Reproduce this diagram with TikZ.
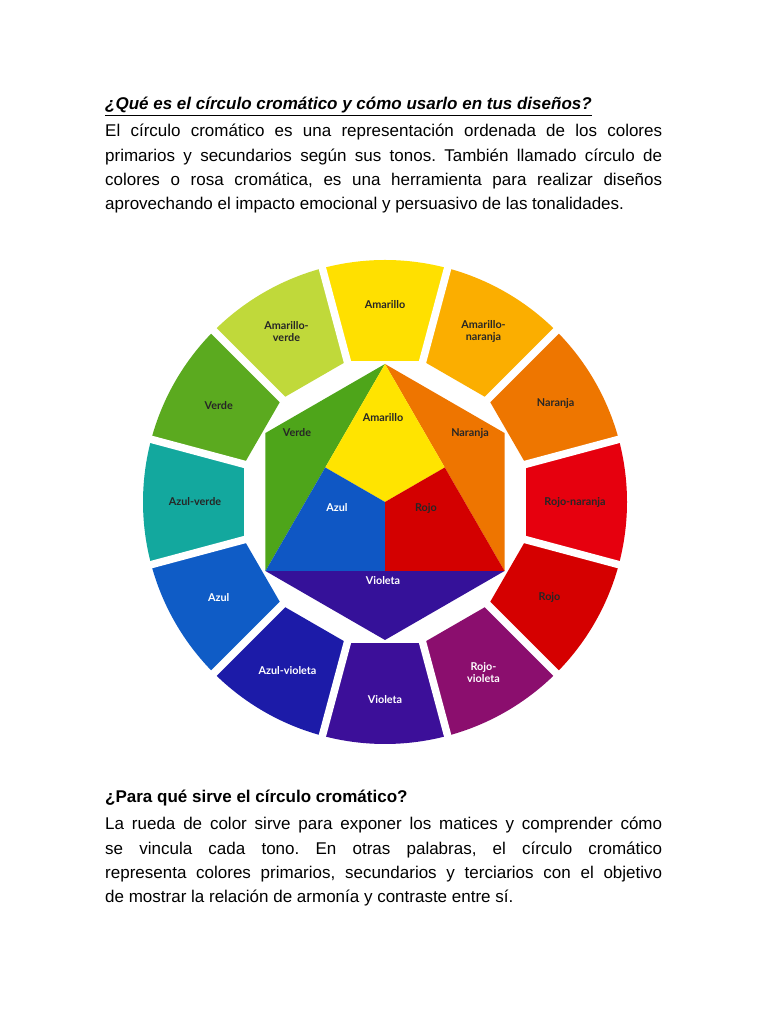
\documentclass[tikz,border=0pt]{standalone}
\usepackage{fontspec}
\setmainfont{Liberation Sans}
\newfontfamily\lblfont{Lato}
\usetikzlibrary{calc}
\newcommand\nohyph{\hyphenpenalty=10000\exhyphenpenalty=10000\lefthyphenmin=62\righthyphenmin=62\language=255\relax}
\begin{document}
\begin{tikzpicture}[x=1pt,y=1pt,
  lbl/.style={font=\lblfont\bfseries\fontsize{10.8}{12.5}\selectfont,align=center,text=black!85},
  wlbl/.style={lbl,text=white},
  para/.style={anchor=north west,text width=557pt,align=justify,inner sep=0pt,font=\fontsize{17}{24.3}\selectfont\frenchspacing\nohyph}]
\definecolor{cAV}{HTML}{C0D93A}\definecolor{cV}{HTML}{5BAA1F}\definecolor{cAzV}{HTML}{13A89E}
\definecolor{cAz}{HTML}{0F5CC6}\definecolor{cAzVi}{HTML}{1C1BA8}\definecolor{cVi}{HTML}{3C0F99}
\definecolor{cRVi}{HTML}{8B0E6E}\definecolor{cR}{HTML}{D50000}\definecolor{cRN}{HTML}{E6000E}
\definecolor{cN}{HTML}{EE7600}\definecolor{cAN}{HTML}{FBAE00}\definecolor{cA}{HTML}{FFE000}
\definecolor{iV}{HTML}{4EA51A}\definecolor{iA}{HTML}{FFE400}\definecolor{iN}{HTML}{EE7500}
\definecolor{iAz}{HTML}{0F57C4}\definecolor{iR}{HTML}{D30000}\definecolor{iVi}{HTML}{351199}
\useasboundingbox[fill=white] (0,0) rectangle (768,1024);
\node[anchor=base west,inner sep=0pt,font=\fontsize{17}{20}\selectfont\bfseries\itshape] (title) at (105,1024-110) {\underline{¿Qué es el círculo cromático y cómo usarlo en tus diseños?}};
\node[para] (p1) at (105,1024-124) {El círculo cromático es una representación ordenada de los colores primarios y secundarios según sus tonos. También llamado círculo de colores o rosa cromática, es una herramienta para realizar diseños aprovechando el impacto emocional y persuasivo de las tonalidades.};
\node[anchor=base west,inner sep=0pt,font=\fontsize{17}{20}\selectfont\bfseries] (h2) at (105,1024-803) {¿Para qué sirve el círculo cromático?};
\node[para] (p2) at (105,1024-817) {La rueda de color sirve para exponer los matices y comprender cómo\linebreak se vincula cada tono. En otras palabras, el círculo cromático\linebreak representa colores primarios, secundarios y terciarios con el objetivo de mostrar la relación de armonía y contraste entre sí.};
\begin{scope}[shift={(385,522)}]
\foreach \a/\c in {90/cA,60/cAN,30/cN,0/cRN,-30/cR,-60/cRVi,-90/cVi,-120/cAzVi,-150/cAz,180/cAzV,150/cV,120/cAV}{
  \fill[\c] (\a-15:146) -- (\a-15:242) arc[start angle=\a-15,end angle=\a+15,radius=242] -- (\a+15:146) -- cycle;}
\foreach \a in {15,45,...,345}{\draw[white,line width=7.5] (0,0) -- (\a:250);}
\coordinate (O) at (0,0);
\coordinate (T) at (90:138);\coordinate (UR) at (30:138);\coordinate (LR) at (-30:138);
\coordinate (B) at (-90:138);\coordinate (LL) at (-150:138);\coordinate (UL) at (150:138);
\coordinate (ML) at ($(T)!0.5!(LL)$);\coordinate (MR) at ($(T)!0.5!(LR)$);\coordinate (MB) at ($(LL)!0.5!(LR)$);
\fill[iV] (T) -- (UL) -- (LL) -- cycle;
\fill[iN] (T) -- (UR) -- (LR) -- cycle;
\fill[iVi] (LL) -- (B) -- (LR) -- cycle;
\fill[iA] (T) -- (ML) -- (O) -- (MR) -- cycle;
\fill[iAz] (LL) -- (ML) -- (O) -- (MB) -- cycle;
\fill[iR] (LR) -- (MR) -- (O) -- (MB) -- cycle;
\node[lbl] (oA) at (90:197) {Amarillo};
\node[lbl] (oAN) at (60:197) {Amarillo-\\naranja};
\node[lbl] (oN) at (30:197) {Naranja};
\node[lbl] (oRN) at (0:190) {Rojo-naranja};
\node[lbl] (oR) at (-30:190) {Rojo};
\node[wlbl] (oRVi) at (-60:197) {Rojo-\\violeta};
\node[wlbl] (oVi) at (-90:198) {Violeta};
\node[wlbl] (oAzVi) at (-120:195) {Azul-violeta};
\node[wlbl] (oAz) at (-150:192) {Azul};
\node[lbl] (oAzV) at (180:190) {Azul-verde};
\node[lbl] (oV) at (150:192) {Verde};
\node[lbl] (oAV) at (120:197) {Amarillo-\\verde};
\node[lbl] (iAl) at (-2,84) {Amarillo};
\node[lbl] (iVl) at (-88,69) {Verde};
\node[lbl] (iNl) at (85,69) {Naranja};
\node[wlbl] (iAzl) at (-48,-6) {Azul};
\node[lbl] (iRl) at (41,-6) {Rojo};
\node[wlbl] (iVil) at (-2,-79) {Violeta};
\end{scope}
\end{tikzpicture}
\end{document}
